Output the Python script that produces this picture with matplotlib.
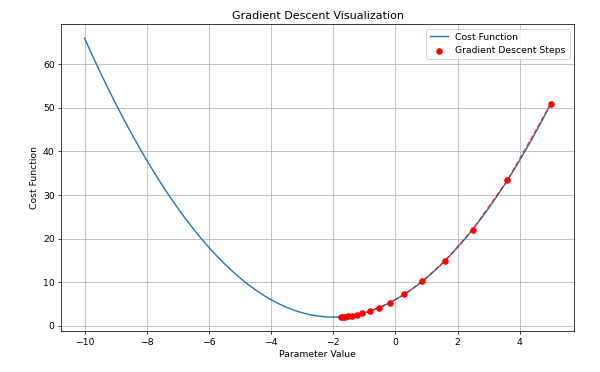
import matplotlib
matplotlib.use("Agg")
import matplotlib.pyplot as plt

# Cost curve
param_values = [-10, -9.75, -9.5, -9.25, -9, -8.75, -8.5, -8.25, -8, -7.75, -7.5, -7.25,
                -7, -6.75, -6.5, -6.25, -6, -5.75, -5.5, -5.25, -5, -4.75, -4.5, -4.25,
                -4, -3.75, -3.5, -3.25, -3, -2.75, -2.5, -2.25, -2, -1.75, -1.5, -1.25,
                -1, -0.75, -0.5, -0.25, 0, 0.25, 0.5, 0.75, 1, 1.25, 1.5, 1.75,
                2, 2.25, 2.5, 2.75, 3, 3.25, 3.5, 3.75, 4, 4.25, 4.5, 4.75, 5]
cost_values = [66, 62.06, 58.25, 54.56, 51, 47.56, 44.25, 41.06, 38, 35.06, 32.25, 29.56,
               27, 24.56, 22.25, 20.06, 18, 16.06, 14.25, 12.56, 11, 9.56, 8.25, 7.06,
               6, 5.06, 4.25, 3.56, 3, 2.56, 2.25, 2.06, 2, 2.06, 2.25, 2.56,
               3, 3.56, 4.25, 5.06, 6, 7.06, 8.25, 9.56, 11, 12.56, 14.25, 16.06,
               18, 20.06, 22.25, 24.56, 27, 29.56, 32.25, 35.06, 38, 41.06, 44.25, 47.56, 51]

# Gradient descent steps
step_x = [5, 3.6, 2.48, 1.58, 0.87, 0.29, -0.17, -0.53, -0.83, -1.06, -1.25, -1.40,
          -1.52, -1.62, -1.69, -1.75]
step_y = [51, 33.36, 22.07, 14.82, 10.22, 7.24, 5.34, 4.16, 3.39, 2.88, 2.56, 2.36,
          2.23, 2.14, 2.09, 2.06]

fig, ax = plt.subplots(figsize=(9, 5.58), dpi=600 / 9)
fig.subplots_adjust(left=0.102, right=0.957, top=0.935, bottom=0.11)

ax.plot(param_values, cost_values, label="Cost Function")
ax.scatter(step_x, step_y, color="red", label="Gradient Descent Steps", zorder=3)
ax.plot(step_x, step_y, "r--", alpha=0.7)

ax.set_title("Gradient Descent Visualization")
ax.set_xlabel("Parameter Value")
ax.set_ylabel("Cost Function")
ax.legend(loc="upper right")
ax.grid(True)

fig.savefig("out.png")
